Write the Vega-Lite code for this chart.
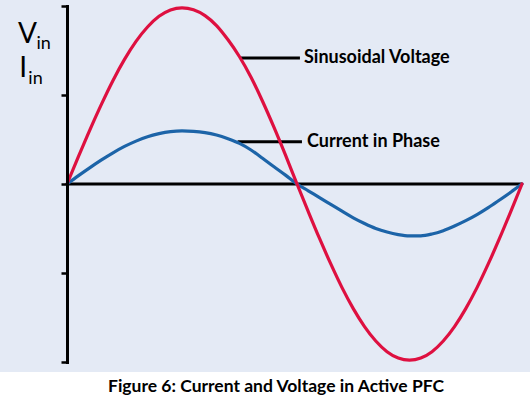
{
  "$schema": "https://vega.github.io/schema/vega-lite/v6.json",
  "width": 455,
  "height": 356,
  "autosize": {"type": "none"},
  "padding": {"left": 67, "top": 6, "right": 8, "bottom": 37},
  "background": "#ffffff",
  "config": {"view": {"stroke": null}},
  "datasets": {
    "waves": [
      {"series": "Current", "t": 0, "v": 0},
      {"series": "Current", "t": 9.1, "v": 0.047},
      {"series": "Current", "t": 18.2, "v": 0.092},
      {"series": "Current", "t": 27.3, "v": 0.135},
      {"series": "Current", "t": 36.4, "v": 0.175},
      {"series": "Current", "t": 45.5, "v": 0.211},
      {"series": "Current", "t": 54.6, "v": 0.241},
      {"series": "Current", "t": 63.7, "v": 0.266},
      {"series": "Current", "t": 72.8, "v": 0.283},
      {"series": "Current", "t": 81.9, "v": 0.294},
      {"series": "Current", "t": 91, "v": 0.298},
      {"series": "Current", "t": 100.1, "v": 0.296},
      {"series": "Current", "t": 109.2, "v": 0.289},
      {"series": "Current", "t": 118.3, "v": 0.275},
      {"series": "Current", "t": 127.4, "v": 0.254},
      {"series": "Current", "t": 136.5, "v": 0.228},
      {"series": "Current", "t": 145.6, "v": 0.191},
      {"series": "Current", "t": 154.7, "v": 0.145},
      {"series": "Current", "t": 163.8, "v": 0.097},
      {"series": "Current", "t": 172.9, "v": 0.05},
      {"series": "Current", "t": 182, "v": 0},
      {"series": "Current", "t": 190.9, "v": -0.038},
      {"series": "Current", "t": 199.8, "v": -0.077},
      {"series": "Current", "t": 208.7, "v": -0.115},
      {"series": "Current", "t": 217.6, "v": -0.153},
      {"series": "Current", "t": 226.5, "v": -0.19},
      {"series": "Current", "t": 235.4, "v": -0.222},
      {"series": "Current", "t": 244.3, "v": -0.25},
      {"series": "Current", "t": 253.2, "v": -0.27},
      {"series": "Current", "t": 262.1, "v": -0.284},
      {"series": "Current", "t": 271, "v": -0.291},
      {"series": "Current", "t": 279.9, "v": -0.291},
      {"series": "Current", "t": 288.8, "v": -0.281},
      {"series": "Current", "t": 297.7, "v": -0.262},
      {"series": "Current", "t": 306.6, "v": -0.236},
      {"series": "Current", "t": 315.5, "v": -0.206},
      {"series": "Current", "t": 324.4, "v": -0.172},
      {"series": "Current", "t": 333.3, "v": -0.133},
      {"series": "Current", "t": 342.2, "v": -0.09},
      {"series": "Current", "t": 351.1, "v": -0.046},
      {"series": "Current", "t": 360, "v": 0},
      {"series": "Voltage", "t": 0, "v": 0},
      {"series": "Voltage", "t": 9.1, "v": 0.155},
      {"series": "Voltage", "t": 18.2, "v": 0.306},
      {"series": "Voltage", "t": 27.3, "v": 0.449},
      {"series": "Voltage", "t": 36.4, "v": 0.582},
      {"series": "Voltage", "t": 45.5, "v": 0.7},
      {"series": "Voltage", "t": 54.6, "v": 0.801},
      {"series": "Voltage", "t": 63.7, "v": 0.882},
      {"series": "Voltage", "t": 72.8, "v": 0.942},
      {"series": "Voltage", "t": 81.9, "v": 0.978},
      {"series": "Voltage", "t": 91, "v": 0.99},
      {"series": "Voltage", "t": 100.1, "v": 0.979},
      {"series": "Voltage", "t": 109.2, "v": 0.946},
      {"series": "Voltage", "t": 118.3, "v": 0.89},
      {"series": "Voltage", "t": 127.4, "v": 0.81},
      {"series": "Voltage", "t": 136.5, "v": 0.715},
      {"series": "Voltage", "t": 145.6, "v": 0.6},
      {"series": "Voltage", "t": 154.7, "v": 0.465},
      {"series": "Voltage", "t": 163.8, "v": 0.318},
      {"series": "Voltage", "t": 172.9, "v": 0.162},
      {"series": "Voltage", "t": 182, "v": 0},
      {"series": "Voltage", "t": 190.9, "v": -0.155},
      {"series": "Voltage", "t": 199.8, "v": -0.306},
      {"series": "Voltage", "t": 208.7, "v": -0.449},
      {"series": "Voltage", "t": 217.6, "v": -0.582},
      {"series": "Voltage", "t": 226.5, "v": -0.7},
      {"series": "Voltage", "t": 235.4, "v": -0.801},
      {"series": "Voltage", "t": 244.3, "v": -0.882},
      {"series": "Voltage", "t": 253.2, "v": -0.942},
      {"series": "Voltage", "t": 262.1, "v": -0.978},
      {"series": "Voltage", "t": 271, "v": -0.99},
      {"series": "Voltage", "t": 279.9, "v": -0.978},
      {"series": "Voltage", "t": 288.8, "v": -0.942},
      {"series": "Voltage", "t": 297.7, "v": -0.882},
      {"series": "Voltage", "t": 306.6, "v": -0.801},
      {"series": "Voltage", "t": 315.5, "v": -0.7},
      {"series": "Voltage", "t": 324.4, "v": -0.582},
      {"series": "Voltage", "t": 333.3, "v": -0.449},
      {"series": "Voltage", "t": 342.2, "v": -0.306},
      {"series": "Voltage", "t": 351.1, "v": -0.155},
      {"series": "Voltage", "t": 360, "v": 0}
    ],
    "notes": [
      {"label": "Sinusoidal Voltage", "t0": 137.5, "t1": 184.3, "tt": 187.5, "v": 0.708},
      {"label": "Current in Phase", "t0": 135, "t1": 185.9, "tt": 189.9, "v": 0.238}
    ]
  },
  "layer": [
    {
      "data": {"values": [{}]},
      "mark": {"type": "rect", "color": "#e4eaf5"},
      "encoding": {
        "x": {"datum": -60, "type": "quantitative", "scale": {"domain": [0, 360]}, "axis": null},
        "x2": {"datum": 380},
        "y": {"datum": 1.1, "type": "quantitative", "scale": {"domain": [-1, 1]},
          "axis": {"values": [-1, -0.5, 0, 0.5, 1], "labels": false, "grid": false, "title": null, "zindex": 2,
            "domainColor": "#000000", "domainWidth": 3, "domainCap": "square",
            "tickColor": "#000000", "tickWidth": 2.5, "tickSize": 6}},
        "y2": {"datum": -1.056}
      }
    },
    {
      "data": {"values": [{}]},
      "mark": {"type": "rule", "color": "#000000", "strokeWidth": 3},
      "encoding": {
        "x": {"datum": 0, "type": "quantitative", "scale": {"domain": [0, 360]}, "axis": null},
        "x2": {"datum": 360},
        "y": {"datum": 0, "type": "quantitative", "scale": {"domain": [-1, 1]},
          "axis": {"values": [-1, -0.5, 0, 0.5, 1], "labels": false, "grid": false, "title": null, "zindex": 2,
            "domainColor": "#000000", "domainWidth": 3, "domainCap": "square",
            "tickColor": "#000000", "tickWidth": 2.5, "tickSize": 6}}
      }
    },
    {
      "data": {"name": "notes"},
      "mark": {"type": "rule", "color": "#000000", "strokeWidth": 3},
      "encoding": {
        "x": {"field": "t0", "type": "quantitative", "scale": {"domain": [0, 360]}, "axis": null},
        "x2": {"field": "t1"},
        "y": {"field": "v", "type": "quantitative", "scale": {"domain": [-1, 1]},
          "axis": {"values": [-1, -0.5, 0, 0.5, 1], "labels": false, "grid": false, "title": null, "zindex": 2,
            "domainColor": "#000000", "domainWidth": 3, "domainCap": "square",
            "tickColor": "#000000", "tickWidth": 2.5, "tickSize": 6}}
      }
    },
    {
      "data": {"name": "notes"},
      "mark": {"type": "text", "align": "left", "baseline": "middle", "font": "Lato", "fontWeight": "bold", "fontSize": 18, "color": "#000000"},
      "encoding": {
        "x": {"field": "tt", "type": "quantitative", "scale": {"domain": [0, 360]}, "axis": null},
        "y": {"field": "v", "type": "quantitative", "scale": {"domain": [-1, 1]},
          "axis": {"values": [-1, -0.5, 0, 0.5, 1], "labels": false, "grid": false, "title": null, "zindex": 2,
            "domainColor": "#000000", "domainWidth": 3, "domainCap": "square",
            "tickColor": "#000000", "tickWidth": 2.5, "tickSize": 6}},
        "text": {"field": "label"}
      }
    },
    {
      "data": {"name": "waves"},
      "mark": {"type": "line", "strokeWidth": 3.2, "strokeCap": "round", "interpolate": "monotone"},
      "encoding": {
        "x": {"field": "t", "type": "quantitative", "scale": {"domain": [0, 360]}, "axis": null},
        "y": {"field": "v", "type": "quantitative", "scale": {"domain": [-1, 1]},
          "axis": {"values": [-1, -0.5, 0, 0.5, 1], "labels": false, "grid": false, "title": null, "zindex": 2,
            "domainColor": "#000000", "domainWidth": 3, "domainCap": "square",
            "tickColor": "#000000", "tickWidth": 2.5, "tickSize": 6}},
        "color": {"field": "series", "type": "nominal", "scale": {"domain": ["Current", "Voltage"], "range": ["#1c64a8", "#de1040"]}, "legend": null},
        "order": {"field": "t", "type": "quantitative"}
      }
    },
    {
      "data": {"values": [{"s": "V", "t": -38.8, "v": 0.79, "k": "big"}, {"s": "in", "t": -24.2, "v": 0.757, "k": "sub"}, {"s": "I", "t": -37.8, "v": 0.599, "k": "big"}, {"s": "in", "t": -30.6, "v": 0.562, "k": "sub"}]},
      "mark": {"type": "text", "align": "left", "baseline": "alphabetic", "font": "Lato", "color": "#000000"},
      "encoding": {
        "x": {"field": "t", "type": "quantitative", "scale": {"domain": [0, 360]}, "axis": null},
        "y": {"field": "v", "type": "quantitative", "scale": {"domain": [-1, 1]},
          "axis": {"values": [-1, -0.5, 0, 0.5, 1], "labels": false, "grid": false, "title": null, "zindex": 2,
            "domainColor": "#000000", "domainWidth": 3, "domainCap": "square",
            "tickColor": "#000000", "tickWidth": 2.5, "tickSize": 6}},
        "text": {"field": "s"},
        "size": {"field": "k", "type": "nominal", "scale": {"domain": ["big", "sub"], "range": [28, 18]}, "legend": null}
      }
    },
    {
      "data": {"values": [{}]},
      "mark": {"type": "text", "align": "center", "baseline": "middle", "font": "Lato", "fontWeight": "bold", "fontSize": 17.5, "color": "#000000", "text": "Figure 6: Current and Voltage in Active PFC"},
      "encoding": {
        "x": {"datum": 165.4, "type": "quantitative", "scale": {"domain": [0, 360]}, "axis": null},
        "y": {"datum": -1.14, "type": "quantitative", "scale": {"domain": [-1, 1]},
          "axis": {"values": [-1, -0.5, 0, 0.5, 1], "labels": false, "grid": false, "title": null, "zindex": 2,
            "domainColor": "#000000", "domainWidth": 3, "domainCap": "square",
            "tickColor": "#000000", "tickWidth": 2.5, "tickSize": 6}}
      }
    }
  ]
}
